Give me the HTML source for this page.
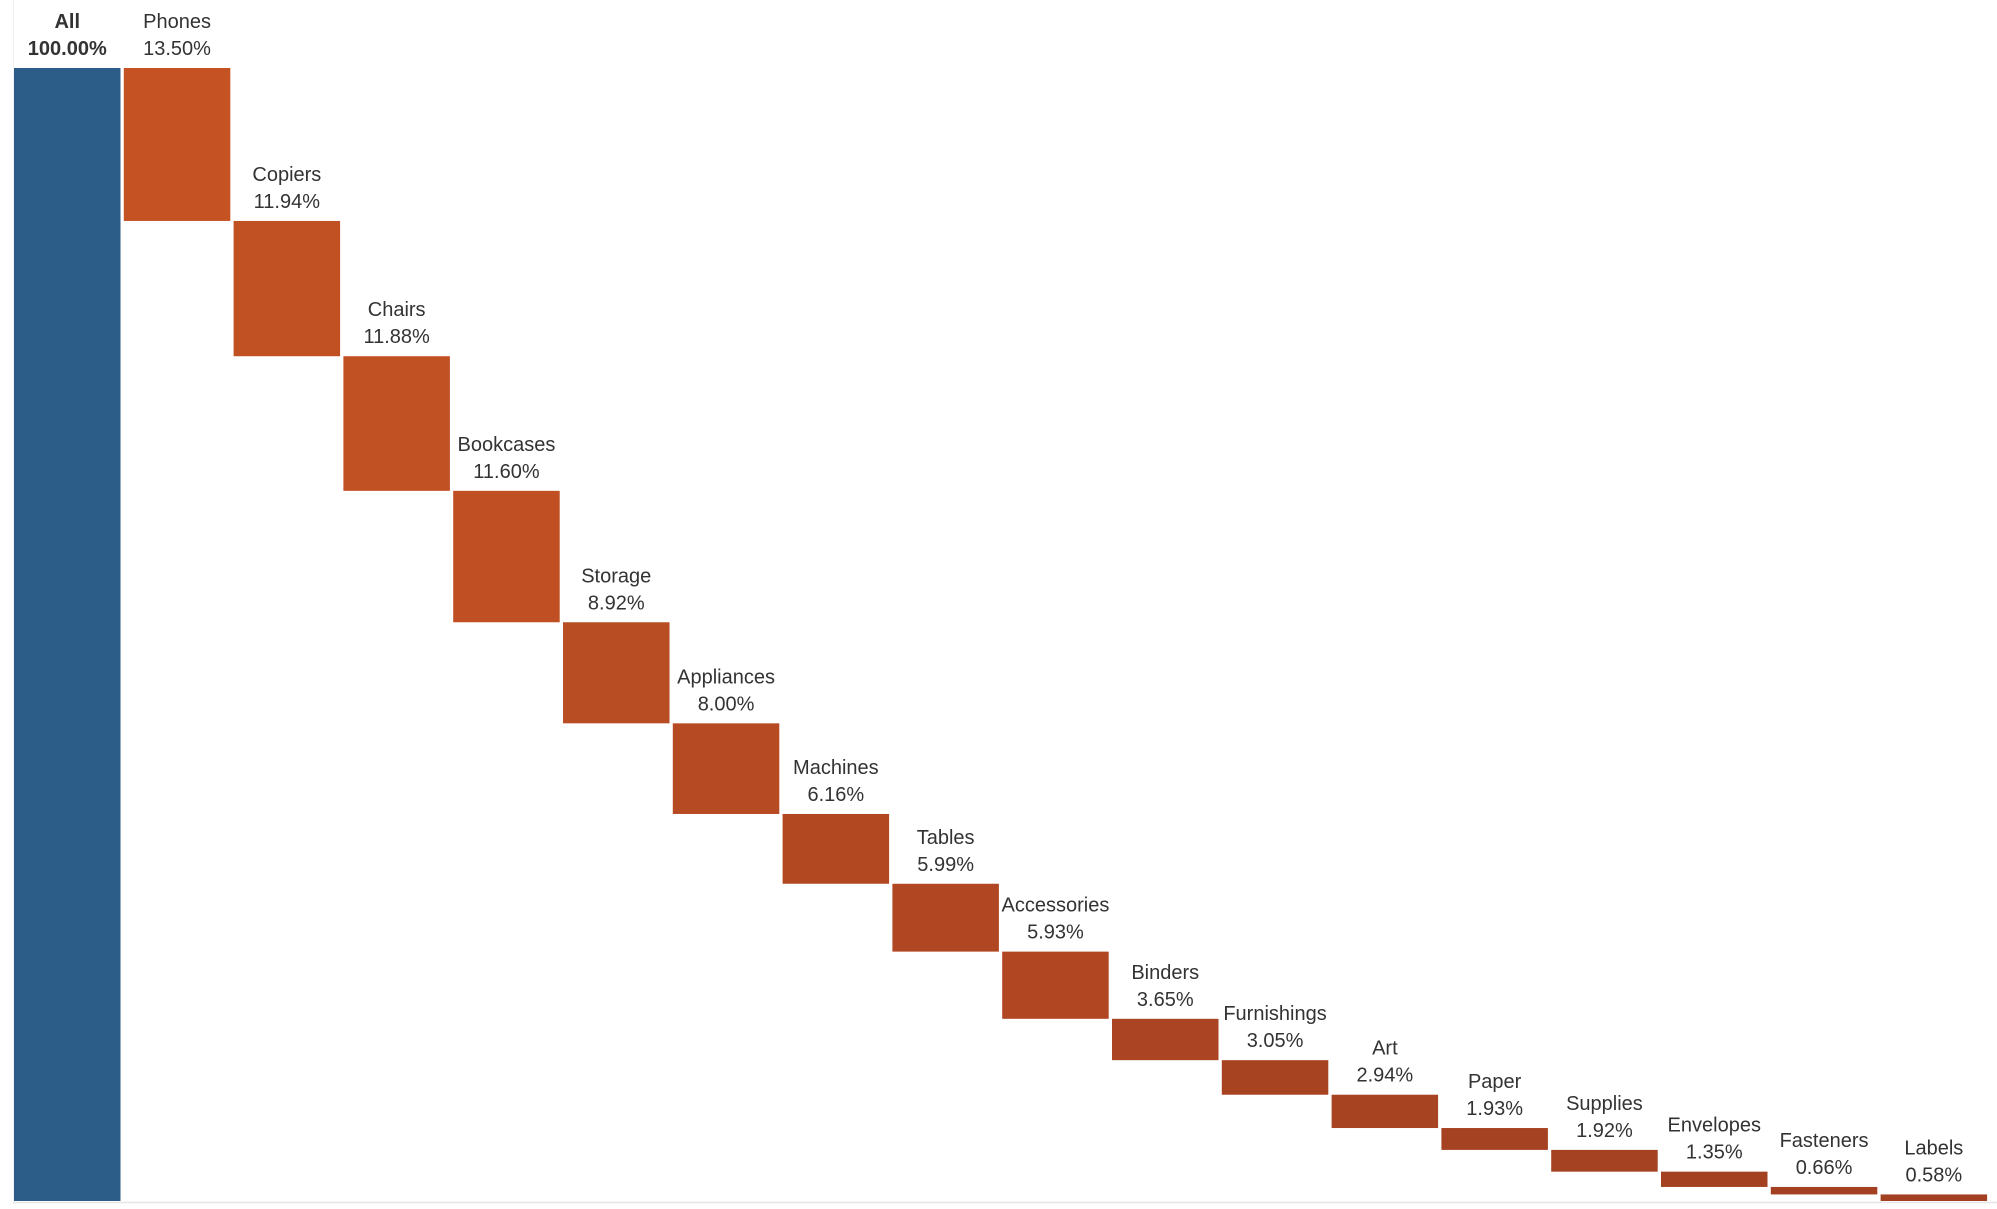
<!DOCTYPE html>
<html><head><meta charset="utf-8"><style>
html,body{margin:0;padding:0;background:#fff;}
svg{display:block;font-family:"Liberation Sans",sans-serif;}
</style></head><body>
<svg id="chart" width="1997" height="1209" viewBox="0 0 1997 1209" xmlns="http://www.w3.org/2000/svg">
<line x1="13.5" y1="0" x2="13.5" y2="1203" stroke="#f0f0f0" stroke-width="1"/>
<line x1="13" y1="1202.5" x2="1997" y2="1202.5" stroke="#e6e6e6" stroke-width="1.5"/>
<g id="bars"></g>
<g id="labels"></g>
</svg>
<script>
const categories = ["All","Phones","Copiers","Chairs","Bookcases","Storage","Appliances","Machines","Tables","Accessories","Binders","Furnishings","Art","Paper","Supplies","Envelopes","Fasteners","Labels"];
const values = [100.00,13.50,11.94,11.88,11.60,8.92,8.00,6.16,5.99,5.93,3.65,3.05,2.94,1.93,1.92,1.35,0.66,0.58];
const valueLabels = ["100.00%","13.50%","11.94%","11.88%","11.60%","8.92%","8.00%","6.16%","5.99%","5.93%","3.65%","3.05%","2.94%","1.93%","1.92%","1.35%","0.66%","0.58%"];

const NS = "http://www.w3.org/2000/svg";
const x0 = 14, step = 109.8, barW = 106.5;
const yTop = 68, yBottom = 1201;
function xPos(i){ return x0 + i*step; }
function yScale(v){ return yTop + (100 - v) * (yBottom - yTop) / 100; }
function colorFor(v){
  const t = Math.min(1, v/13.5);
  const a=[160,63,33], b=[197,82,35];
  const c=a.map((s,k)=>Math.round(s+(b[k]-s)*t));
  return "rgb("+c.join(",")+")";
}
const gBars = document.getElementById("bars");
const gLab = document.getElementById("labels");
let cum = 100;
for (let i=0;i<categories.length;i++){
  let top, bottom;
  if (i===0){ top = yScale(values[0]); bottom = yScale(0); }
  else { top = yScale(cum); bottom = yScale(cum - values[i]); cum -= values[i]; }
  const r = document.createElementNS(NS,"rect");
  r.setAttribute("x", xPos(i));
  r.setAttribute("y", top);
  r.setAttribute("width", barW);
  r.setAttribute("height", Math.max(1, bottom-top));
  r.setAttribute("fill", i===0 ? "#2c5d89" : colorFor(values[i]));
  
  
  gBars.appendChild(r);
  const cx = xPos(i) + barW/2;
  const t1 = document.createElementNS(NS,"text");
  t1.setAttribute("x", cx); t1.setAttribute("y", top - 40);
  t1.setAttribute("text-anchor","middle"); t1.setAttribute("font-size","20");
  t1.setAttribute("fill","#333");
  if (i===0) t1.setAttribute("font-weight","bold");
  t1.textContent = categories[i];
  
  
  gLab.appendChild(t1);
  const t2 = document.createElementNS(NS,"text");
  t2.setAttribute("x", cx); t2.setAttribute("y", top - 13);
  t2.setAttribute("text-anchor","middle"); t2.setAttribute("font-size","20");
  t2.setAttribute("fill","#333");
  if (i===0) t2.setAttribute("font-weight","bold");
  t2.textContent = valueLabels[i];
  
  
  gLab.appendChild(t2);
}
</script>
</body></html>
